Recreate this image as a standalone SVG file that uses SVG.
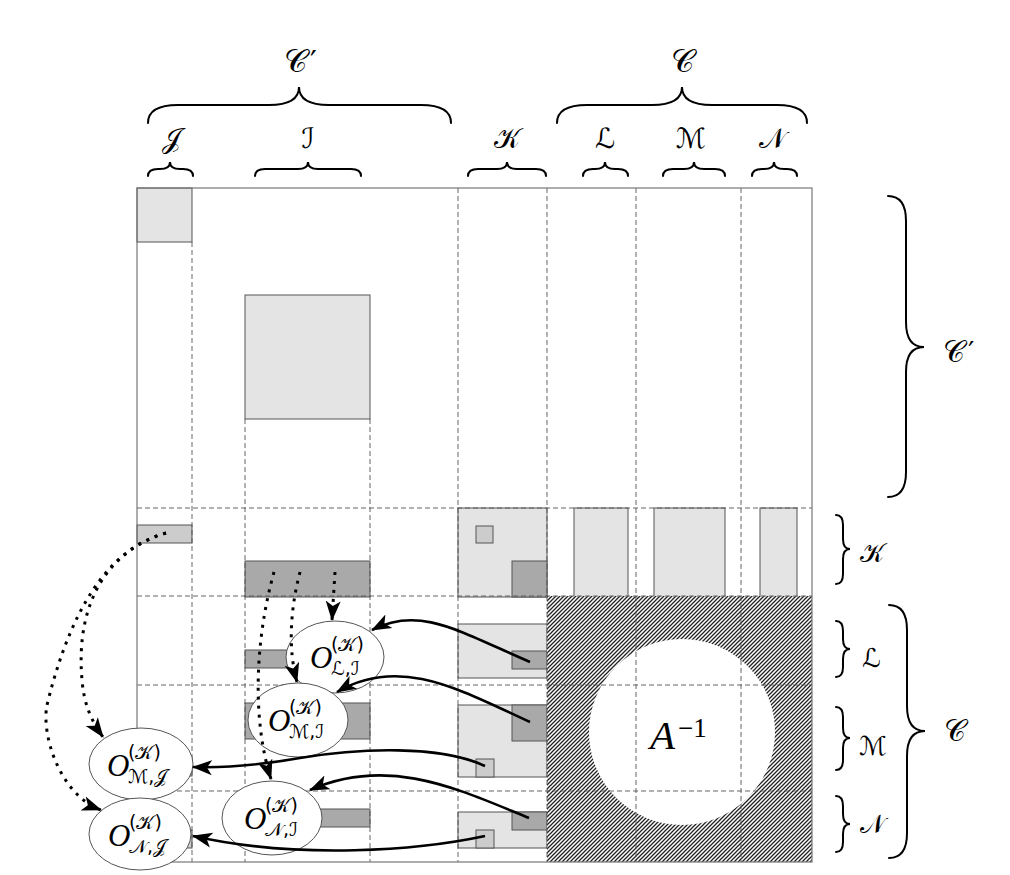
<svg xmlns="http://www.w3.org/2000/svg" width="1010" height="875" viewBox="0 0 1010 875">
<style>
.lt{fill:#e4e4e4;stroke:#555;stroke-width:1}
.md{fill:#cccccc;stroke:#555;stroke-width:1}
.dk{fill:#a9a9a9;stroke:#555;stroke-width:1}
.grid{stroke:#555;stroke-width:0.9;stroke-dasharray:5 3;fill:none}
.border{stroke:#777;stroke-width:1.2;fill:none}
.brace{stroke:#000;stroke-width:2;fill:none;stroke-linecap:round}
.scr{font-family:"DejaVu Sans","DejaVu Serif",sans-serif;fill:#000}
.it{font-family:"Liberation Serif","DejaVu Serif",serif;font-style:italic;fill:#000}
.rm{font-family:"Liberation Serif","DejaVu Serif",serif;font-style:normal;fill:#000}
.pr{font-family:"DejaVu Sans",sans-serif;fill:#000}
.ell{fill:#fff;stroke:#555;stroke-width:1}
.sol{fill:none;stroke:#000;stroke-width:2.6;marker-end:url(#ah)}
.dot{fill:none;stroke:#000;stroke-width:3;stroke-dasharray:3 6;marker-end:url(#ah)}
</style>
<defs>
<pattern id="hatch" width="4" height="4" patternUnits="userSpaceOnUse">
<rect width="4" height="4" fill="#fff"/>
<path d="M-1,1 L1,-1 M0,4 L4,0 M3,5 L5,3" stroke="#222" stroke-width="1.3"/>
</pattern>
<marker id="ah" markerWidth="22" markerHeight="18" refX="19" refY="9" orient="auto" markerUnits="userSpaceOnUse" viewBox="0 0 22 18">
<path d="M0,1.5 L20,9 L0,16.5 L5,9 Z" fill="#000"/>
</marker>
</defs>
<rect width="1010" height="875" fill="#fff"/>

<g id="matrix">
<rect class="lt" x="137" y="188" width="55" height="54"/>
<rect class="lt" x="245" y="295" width="125" height="124"/>
<rect class="md" x="137" y="525" width="55" height="18"/>
<rect class="dk" x="245" y="561" width="125" height="36"/>
<rect class="lt" x="458" y="508" width="89" height="89"/>
<rect class="md" x="476" y="526" width="17" height="17"/>
<rect class="dk" x="512" y="561" width="35" height="36"/>
<rect class="lt" x="574" y="508" width="54" height="89"/>
<rect class="lt" x="654" y="508" width="71" height="89"/>
<rect class="lt" x="760" y="508" width="37" height="89"/>
<rect class="lt" x="458" y="624" width="89" height="54"/>
<rect class="dk" x="512" y="651" width="35" height="18"/>
<rect class="lt" x="458" y="705" width="89" height="72"/>
<rect class="dk" x="512" y="705" width="35" height="36"/>
<rect class="md" x="476" y="759" width="18" height="18"/>
<rect class="lt" x="458" y="812" width="89" height="36"/>
<rect class="dk" x="512" y="812" width="35" height="18"/>
<rect class="md" x="476" y="830" width="18" height="18"/>
<rect class="dk" x="245" y="650" width="125" height="18"/>
<rect class="dk" x="245" y="703" width="125" height="36"/>
<rect class="dk" x="245" y="809" width="125" height="18"/>
<rect class="md" x="175" y="758" width="17" height="18"/>
<rect class="md" x="175" y="830" width="17" height="18"/>
<rect x="547" y="596" width="265" height="266" fill="url(#hatch)"/>
<circle cx="682" cy="732" r="93" fill="#fff"/>
<text class="it" x="650" y="749" font-size="41" font-family="Liberation Serif" font-style="italic">A</text>
<text class="rm" x="678" y="737" font-size="27">−1</text>
</g>

<g id="grid">
<path class="grid" d="M192,242V862 M245,419V862 M370,419V862 M458,188V862 M547,188V862 M636,188V862 M741,188V862"/>
<path class="grid" d="M137,508H812 M137,596H812 M137,685H812 M137,791H812"/>
<rect class="border" x="137" y="188" width="675" height="674"/>
</g>

<g id="top-braces">
<path class="brace" d="M148,123 Q148,105 178,105 L269,105 Q299,105 299,87 Q299,105 329,105 L421,105 Q451,105 451,123"/>
<path class="brace" d="M557,123 Q557,105 587,105 L652,105 Q682,105 682,87 Q682,105 712,105 L777,105 Q807,105 807,123"/>
<path class="brace" d="M148,176 Q148,169 158,169 L160,169 Q170,169 170,162 Q170,169 180,169 L183,169 Q193,169 193,176"/>
<path class="brace" d="M255,176 Q255,169 265,169 L298,169 Q308,169 308,162 Q308,169 318,169 L351,169 Q361,169 361,176"/>
<path class="brace" d="M468,176 Q468,169 478,169 L497,169 Q507,169 507,162 Q507,169 517,169 L536,169 Q546,169 546,176"/>
<path class="brace" d="M583,176 Q583,169 593,169 L595,169 Q605,169 605,162 Q605,169 615,169 L618,169 Q628,169 628,176"/>
<path class="brace" d="M663,176 Q663,169 673,169 L684,169 Q694,169 694,162 Q694,169 704,169 L715,169 Q725,169 725,176"/>
<path class="brace" d="M752,176 Q752,169 762,169 L764,169 Q774,169 774,162 Q774,169 784,169 L787,169 Q797,169 797,176"/>
<text class="scr" x="284" y="72" font-size="32">𝒞<tspan class="pr" dx="3" font-size="30">′</tspan></text>
<text class="scr" x="682" y="72" font-size="32" text-anchor="middle">𝒞</text>
<text class="scr" x="171" y="148" font-size="28" text-anchor="middle">𝒥</text>
<text class="scr" x="308" y="148" font-size="28" text-anchor="middle">ℐ</text>
<text class="scr" x="507" y="148" font-size="28" text-anchor="middle">𝒦</text>
<text class="scr" x="605" y="148" font-size="28" text-anchor="middle">ℒ</text>
<text class="scr" x="691" y="148" font-size="28" text-anchor="middle">ℳ</text>
<text class="scr" x="772" y="148" font-size="28" text-anchor="middle">𝒩</text>
</g>

<g id="right-braces">
<path class="brace" d="M888,196 Q906,196 906,221 L906,322 Q906,347 924,347 Q906,347 906,372 L906,472 Q906,497 888,497"/>
<path class="brace" d="M889,605 Q907,605 907,630 L907,706 Q907,731 925,731 Q907,731 907,756 L907,833 Q907,858 889,858"/>
<path class="brace" d="M836,515 Q843,515 843,525 L843,539 Q843,549 850,549 Q843,549 843,559 L843,574 Q843,584 836,584"/>
<path class="brace" d="M836,621 Q843,621 843,631 L843,639 Q843,649 850,649 Q843,649 843,659 L843,667 Q843,677 836,677"/>
<path class="brace" d="M836,707 Q843,707 843,717 L843,728 Q843,738 850,738 Q843,738 843,748 L843,760 Q843,770 836,770"/>
<path class="brace" d="M836,796 Q843,796 843,806 L843,814 Q843,824 850,824 Q843,824 843,834 L843,842 Q843,852 836,852"/>
<text class="scr" x="943" y="362" font-size="30">𝒞<tspan class="pr" dx="3" font-size="28">′</tspan></text>
<text class="scr" x="944" y="741" font-size="30">𝒞</text>
<text class="scr" x="860" y="562" font-size="26">𝒦</text>
<text class="scr" x="862" y="667" font-size="26">ℒ</text>
<text class="scr" x="859" y="755" font-size="26">ℳ</text>
<text class="scr" x="860" y="833" font-size="26">𝒩</text>
</g>

<g id="node-OLI">
<ellipse class="ell" cx="335" cy="657" rx="49" ry="36"/>
<text class="it" x="310" y="668" font-size="31">O</text>
<text class="scr" x="331" y="651" font-size="19">(𝒦)</text>
<text class="scr" x="331" y="675" font-size="19">ℒ,ℐ</text>
</g>
<g id="node-OMI">
<ellipse class="ell" cx="298" cy="720" rx="50" ry="37"/>
<text class="it" x="268" y="731" font-size="31">O</text>
<text class="scr" x="289" y="714" font-size="19">(𝒦)</text>
<text class="scr" x="289" y="738" font-size="19">ℳ,ℐ</text>
</g>
<g id="node-ONI">
<ellipse class="ell" cx="272" cy="818" rx="50" ry="37"/>
<text class="it" x="244" y="829" font-size="31">O</text>
<text class="scr" x="265" y="812" font-size="19">(𝒦)</text>
<text class="scr" x="265" y="836" font-size="19">𝒩,ℐ</text>
</g>
<g id="node-OMJ">
<ellipse class="ell" cx="141" cy="764" rx="52" ry="36"/>
<text class="it" x="107" y="776" font-size="31">O</text>
<text class="scr" x="128" y="759" font-size="19">(𝒦)</text>
<text class="scr" x="128" y="783" font-size="19">ℳ,𝒥</text>
</g>
<g id="node-ONJ">
<ellipse class="ell" cx="140" cy="834" rx="51" ry="36"/>
<text class="it" x="108" y="846" font-size="31">O</text>
<text class="scr" x="129" y="829" font-size="19">(𝒦)</text>
<text class="scr" x="129" y="853" font-size="19">𝒩,𝒥</text>
</g>

<g id="connectors">
<path class="sol" d="M530,662 C460,632 420,605 372,630"/>
<path class="sol" d="M530,722 C460,690 400,655 337,692"/>
<path class="sol" d="M485,766 C440,745 360,748 300,758 C260,765 220,768 193,767"/>
<path class="sol" d="M529,818 C460,790 390,755 310,790"/>
<path class="sol" d="M485,836 C420,850 300,860 193,836"/>
<path class="dot" d="M335,572 L332,620"/>
<path class="dot" d="M300,572 C290,610 288,650 297,682"/>
<path class="dot" d="M274,572 C255,640 252,720 271,779"/>
<path class="dot" d="M166,533 C110,550 75,600 82,680 C84,705 92,722 103,737"/>
<path class="dot" d="M166,533 C120,545 75,590 47,705 C41,735 60,795 101,810"/>
</g>
</svg>
